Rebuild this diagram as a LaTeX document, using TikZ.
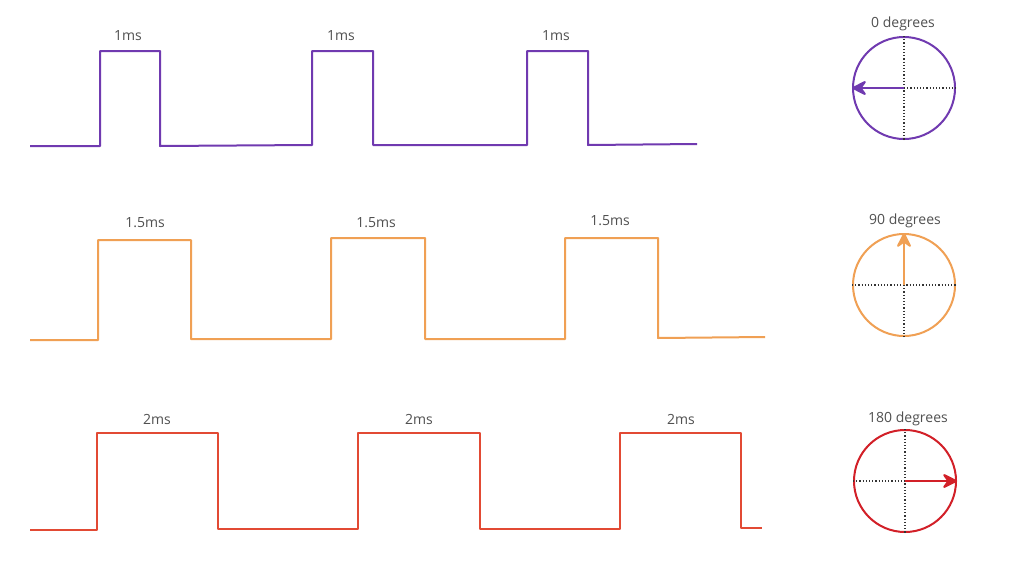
\documentclass[tikz,border=0pt]{standalone}
\usepackage{fontspec}
\setmainfont{Open Sans}
\usetikzlibrary{arrows.meta}
\definecolor{cpurple}{RGB}{112,58,176}
\definecolor{corange}{RGB}{240,160,84}
\definecolor{cred}{RGB}{226,74,52}
\definecolor{cred2}{RGB}{210,32,40}
\definecolor{ctext}{RGB}{80,80,80}
\tikzset{
  wave/.style={line width=2pt, line join=round},
  lbl/.style={text=ctext, font=\fontsize{14}{16}\selectfont, inner sep=0pt},
  dial/.style={circle, draw, line width=2pt, minimum size=102pt, inner sep=0pt},
  axis/.style={dotted, line width=1.2pt, black!80},
  needle/.style={line width=2pt, -{Stealth[length=17pt, width=17pt, inset=6pt, round]}}
}
\begin{document}
\begin{tikzpicture}[x=1pt, y=-1pt]
\useasboundingbox (0,0) rectangle (1024,573);
\fill[white] (0,0) rectangle (1024,573);
% Row 1
\draw[wave, cpurple] (30,146) -- (100,146) -- (100,51) -- (160,51) -- (160,146) -- (312,145) -- (312,51) -- (373,51) -- (373,145) -- (527,145) -- (527,51) -- (588,51) -- (588,145) -- (697,144);
\node[lbl] (l1a) at (128,36) {1ms};
\node[lbl] (l1b) at (341,36) {1ms};
\node[lbl] (l1c) at (556,36) {1ms};
% Row 2
\draw[wave, corange] (30,340) -- (98,340) -- (98,240) -- (191,240) -- (191,339) -- (331,339) -- (331,238) -- (425,238) -- (425,339) -- (565,339) -- (565,238) -- (658,238) -- (658,338) -- (765,337);
\node[lbl] (l2a) at (145,223) {1.5ms};
\node[lbl] (l2b) at (376,223) {1.5ms};
\node[lbl] (l2c) at (610,221) {1.5ms};
% Row 3
\draw[wave, cred] (30,530) -- (97,530) -- (97,433) -- (218,433) -- (218,529) -- (358,529) -- (358,433) -- (480,433) -- (480,529) -- (620,529) -- (620,433) -- (741,433) -- (741,528) -- (762,528);
\node[lbl] (l3a) at (157,419) {2ms};
\node[lbl] (l3b) at (419,419) {2ms};
\node[lbl] (l3c) at (681,419) {2ms};
% Dials
\node[dial, draw=cpurple] (d1) at (904,88) {};
\node[lbl] (t1) at (903,24) {0 degrees};
\draw[axis] (d1.north) -- (d1.south);
\draw[axis] (d1.center) -- (d1.east);
\draw[needle, cpurple] (d1.center) -- (d1.west);

\node[dial, draw=corange] (d2) at (904,285) {};
\node[lbl] (t2) at (905,221) {90 degrees};
\draw[axis] (d2.center) -- (d2.south);
\draw[axis] (d2.west) -- (d2.east);
\draw[needle, corange] (d2.center) -- (d2.north);

\node[dial, draw=cred2] (d3) at (905,481) {};
\node[lbl] (t3) at (908,419) {180 degrees};
\draw[axis] (d3.north) -- (d3.south);
\draw[axis] (d3.west) -- (d3.center);
\draw[needle, cred2] (d3.center) -- (d3.east);
\end{tikzpicture}
\end{document}
